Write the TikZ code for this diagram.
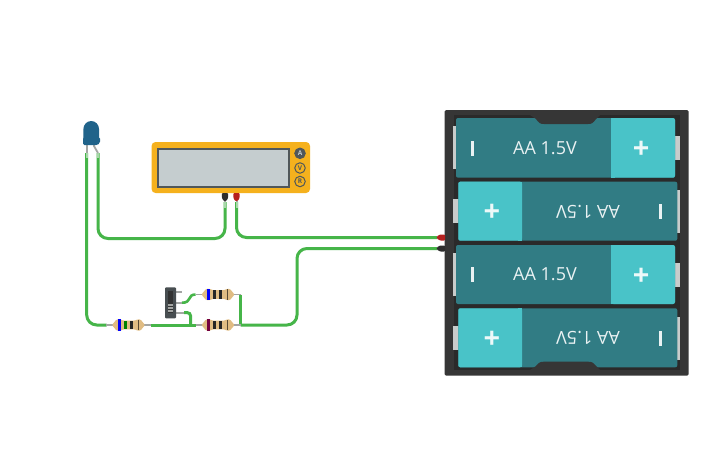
\documentclass[tikz,border=0pt]{standalone}
\usepackage{fontspec}
\setmainfont{Open Sans}
\definecolor{wirec}{HTML}{46B549}
\definecolor{wireedge}{HTML}{A9D6AA}
\definecolor{leadc}{HTML}{A4A6A4}
\definecolor{tealdark}{HTML}{317C84}
\definecolor{teallight}{HTML}{49C3C8}
\definecolor{holder}{HTML}{363636}
\definecolor{holderin}{HTML}{2A2A2A}
\definecolor{contact}{HTML}{C9CCCB}
\definecolor{meterc}{HTML}{F5B11D}
\definecolor{screenc}{HTML}{C5CDCF}
\definecolor{meterdark}{HTML}{50575A}
\definecolor{ledc}{HTML}{20638A}
\definecolor{resbody}{HTML}{E0BC83}
\definecolor{probered}{HTML}{B5201F}
\definecolor{probeblack}{HTML}{2E2E2E}
\tikzset{
  wire/.style={draw=wirec,line width=3pt,rounded corners=10pt},
  lead/.style={draw=leadc,line width=1.8pt},
  wirefade/.style={draw=wireedge,line width=2.6pt},
  cellbody/.style={fill=tealdark,rounded corners=2pt},
  cellcap/.style={fill=teallight},
  contactbar/.style={fill=contact},
  celltext/.style={text=white!90!tealdark,font=\fontsize{18}{18}\selectfont,inner sep=0pt},
  signtext/.style={text=white!90!teallight,font=\fontsize{29}{29}\selectfont\bfseries,inner sep=0pt},
  minusbar/.style={fill=white!90!tealdark},
  knob/.style={circle,draw=meterdark,line width=1pt,minimum size=10.5pt,inner sep=0pt,font=\fontsize{6.5}{6.5}\selectfont\bfseries,text=meterdark},
  pics/resistor/.style n args={3}{code={
    \draw[lead] (-22.5,0) -- (22.5,0);
    \fill[resbody,rounded corners=1pt] (-16.5,0) -- (-12,-5.6) -- (-8,-5.6) -- (-5,-4.3) -- (6,-4.3) -- (9,-5.6) -- (12,-5.6) -- (16.5,0)
      -- (12,5.6) -- (9,5.6) -- (6,4.3) -- (-5,4.3) -- (-8,5.6) -- (-12,5.6) -- cycle;
    \fill[#1] (-11,-5.6) rectangle (-8,5.6);
    \fill[#2] (-5,-4.3) rectangle (-2,4.3);
    \fill[#3] (1,-4.3) rectangle (4,4.3);
    \fill[black!60!resbody] (9.2,-5.2) rectangle (10,5.2);
  }}
}
\begin{document}
\begin{tikzpicture}[x=1pt,y=-1pt]
\useasboundingbox (0,0) rectangle (725,453);
\fill[white] (0,0) rectangle (725,453);

% terminals and bends
\coordinate (ledL) at (86.7,153);
\coordinate (ledR) at (98,153);
\coordinate (mBlack) at (225,202);
\coordinate (mRed) at (236.5,202);
\coordinate (batRed) at (437,237.5);
\coordinate (batBlack) at (437,248.5);
\coordinate (r1L) at (106.5,325);
\coordinate (r1R) at (150.5,325);
\coordinate (r2L) at (195.5,294.5);
\coordinate (r2R) at (240.5,294.5);
\coordinate (r3L) at (195.5,325);
\coordinate (r3R) at (240.5,325);
\coordinate (swM) at (182,302.7);
\coordinate (swB) at (184,312.7);
\coordinate (bus) at (297,325);

% wires
\draw[wire] (ledL) -- (ledL |- r1L) -- (r1L);
\draw[wire] (ledR) -- (ledR |- 0,238.5) -- (mBlack |- 0,238.5) -- (mBlack);
\draw[wire] (mRed) -- (mRed |- batRed) -- (batRed);
\draw[wire] (r1R) -- (r3L);
\draw[wire] (r3R) -- (bus) -- (bus |- batBlack) -- (batBlack);
\draw[wire,rounded corners=0pt] (r2R) -- (r3R);
\draw[wire,rounded corners=3pt] (swB) -- (190.5,312.7) -- (190.5,325);
\draw[wire,line width=2.6pt] (swM) .. controls (192,303) and (187,294.5) .. (r2L);
% lighter wire tips
\draw[wirefade,line width=2pt] (ledL) -- +(0,5);
\draw[wirefade,line width=2pt] (ledR) -- +(0,5);
\draw[wirefade,line width=2pt] (mBlack) -- +(0,6);
\draw[wirefade,line width=2pt] (mRed) -- +(0,6);

% LED
\draw[lead] (86.7,144) -- (ledL);
\draw[lead] (94,144) -- (94,146) -- (ledR);
\fill[ledc] (83.4,138) -- (83.4,129) arc[start angle=180,end angle=360,x radius=7.8,y radius=8] -- (99,138) -- cycle;
\fill[ledc,rounded corners=1.5pt] (83,137) -- (100,137) -- (100,143) -- (97,145.2) -- (83,145.2) -- cycle;

% multimeter
\node[fill=meterc,rounded corners=4pt,minimum width=158.5pt,minimum height=51pt,inner sep=0pt] (meter) at (230.8,167.5) {};
\node[fill=screenc,draw=meterdark,line width=1.8pt,minimum width=131pt,minimum height=38.5pt,inner sep=0pt] (screen) at (223.5,168) {};
\node[knob,fill=meterdark,text=screenc] (knobA) at (300,153.3) {A};
\node[knob] (knobV) at (300,168) {V};
\node[knob] (knobR) at (300,181.5) {R};
% meter probes
\fill[probeblack,rounded corners=1pt] (221.8,193) -- (228.2,193) -- (228.2,197.5) -- (226.5,201) -- (223.5,201) -- (221.8,197.5) -- cycle;
\fill[probered,rounded corners=1pt] (233.3,193) -- (239.7,193) -- (239.7,197.5) -- (238,201) -- (235,201) -- (233.3,197.5) -- cycle;
\draw[leadc,line width=2pt] (225,200.5) -- (mBlack);
\draw[leadc,line width=2pt] (236.5,200.5) -- (mRed);

% switch
\draw[lead] (176,291.7) -- (182,291.7);
\draw[lead] (176,302.7) -- (swM);
\draw[lead] (176,312.7) -- (swB);
\fill[meterdark!90!black,rounded corners=1pt] (165,287.3) rectangle (176,318.3);
\fill[black!80] (167.5,291) rectangle (173.2,313);
\fill[leadc] (167.5,304) rectangle (173.2,306);
\fill[leadc] (167.5,307.2) rectangle (173.2,309.2);
\fill[leadc] (167.5,310.4) rectangle (173.2,312.4);

% resistors
\pic at (128.5,325) {resistor={blue}{green!50!black}{black!85}};
\pic at (218,294.5) {resistor={blue}{black!85}{black!85}};
\pic at (218,325) {resistor={violet!70!red!70!black}{black!85}{black!85}};

% battery holder
\fill[holder,rounded corners=1.5pt] (444.7,110) rectangle (688.7,375.7);
\fill[holderin] (454,115) rectangle (680,370);

% contacts
\fill[contactbar] (453.3,126) rectangle (456.5,169.3);
\fill[contactbar] (675,136) rectangle (680,160);
\fill[contactbar] (453.3,199.3) rectangle (458.5,223);
\fill[contactbar] (677,190) rectangle (679.7,233);
\fill[contactbar] (453.3,253) rectangle (456.5,296.3);
\fill[contactbar] (675,263) rectangle (680,286.5);
\fill[contactbar] (453.3,326) rectangle (458.5,349.7);
\fill[contactbar] (677,316.5) rectangle (679.7,359.5);

% cell 1
\fill[cellbody] (456,118) rectangle (675,177.7);
\fill[teallight,rounded corners=2pt] (611.3,118) rectangle (675,177.7);
\fill[cellcap] (611.3,118) rectangle (615,177.7);
\node[celltext] (t1) at (545,148) {AA 1.5V};
\node[signtext] (p1) at (641.2,150) {+};
\fill[minusbar] (471.3,140.5) rectangle (474.3,155.5);
% cell 2
\fill[cellbody] (458.3,181.7) rectangle (677.3,240.7);
\fill[teallight,rounded corners=2pt] (458.3,181.7) rectangle (522,240.7);
\fill[cellcap] (518,181.7) rectangle (522,240.7);
\node[celltext,rotate=180] (t2) at (588,211.5) {AA 1.5V};
\node[signtext] (p2) at (491.8,213) {+};
\fill[minusbar] (658.7,203.5) rectangle (661.7,218.5);
% cell 3
\fill[cellbody] (456,245) rectangle (675,304);
\fill[teallight,rounded corners=2pt] (611.3,245) rectangle (675,304);
\fill[cellcap] (611.3,245) rectangle (615,304);
\node[celltext] (t3) at (545,274.5) {AA 1.5V};
\node[signtext] (p3) at (641.2,276.5) {+};
\fill[minusbar] (471.3,267) rectangle (474.3,282);
% cell 4
\fill[cellbody] (458.3,308.3) rectangle (677.3,367.3);
\fill[teallight,rounded corners=2pt] (458.3,308.3) rectangle (522,367.3);
\fill[cellcap] (518,308.3) rectangle (522,367.3);
\node[celltext,rotate=180] (t4) at (588,338) {AA 1.5V};
\node[signtext] (p4) at (491.8,339.5) {+};
\fill[minusbar] (658.7,330.5) rectangle (661.7,345.5);

% holder notches
\fill[holder] (530,115) -- (600,115) -- (596,119) .. controls (593,123) and (592,124) .. (588,124) -- (544,124) .. controls (540,124) and (539,123) .. (536,119) -- cycle;
\fill[holder] (530,370) -- (600,370) -- (596,366) .. controls (593,362.5) and (592,361.7) .. (588,361.7) -- (544,361.7) .. controls (540,361.7) and (539,362.5) .. (536,366) -- cycle;

% battery leads
\fill[probered,rounded corners=1pt] (436.7,236.5) -- (440,234.5) -- (445,234.5) -- (445,240.5) -- (440,240.5) -- (436.7,238.5) -- cycle;
\fill[probeblack,rounded corners=1pt] (436.7,247.5) -- (440,245.5) -- (445,245.5) -- (445,251.5) -- (440,251.5) -- (436.7,249.5) -- cycle;
\end{tikzpicture}
\end{document}
